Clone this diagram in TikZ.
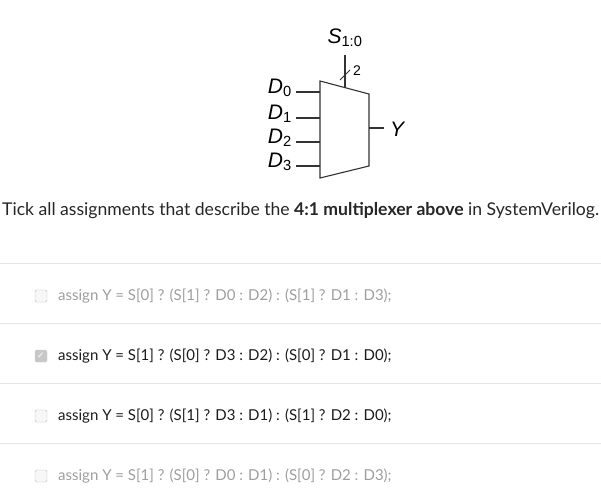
\documentclass[tikz,border=0pt]{standalone}
\usepackage{fontspec}
\setmainfont{Lato}
\newfontfamily\arial{Liberation Sans}
\newfontfamily\dejavu{DejaVu Sans}
\begin{document}
\begin{tikzpicture}[x=1pt,y=-1pt,
  wire/.style={line width=1.1pt,black!80},
  lbl/.style={font=\arial\fontsize{21}{21}\selectfont\itshape,inner sep=0},
  sep/.style={draw=black!10,line width=1pt},
  opt/.style={anchor=west,inner sep=0,font=\fontsize{15}{15}\selectfont},
  box/.style={draw=black!25,fill=black!3,rounded corners=1.5pt,minimum size=12pt,inner sep=0}]
\useasboundingbox (0,0) rectangle (601,501);
\coordinate (tl) at (320,81); \coordinate (bl) at (320,178);
\coordinate (tr) at (369,94); \coordinate (br) at (369,166);
\draw[wire,line join=miter] (tl) -- (tr) -- (br) -- (bl) -- cycle;
\foreach \i/\y in {0/92,1/118,2/142,3/166}{
  \coordinate (in\i) at (320,\y);
  \coordinate (w\i) at (296,\y);
  \draw[wire] (w\i) -- (in\i);
  \node[lbl,anchor=east] (d\i) at (292,\y-4) {D\textsubscript{\upshape\i}};
}
\coordinate (out) at (369,128); \coordinate (oe) at (384,128);
\draw[wire] (out) -- (oe);
\node[lbl,anchor=west] (y) at (390,129) {Y};
\coordinate (s0) at (345,55); \coordinate (s1) at (345,87.5);
\draw[wire] (s0) -- (s1);
\draw[wire,line width=0.8pt] (340,80) -- (350,70);
\node[font=\arial\fontsize{14}{14}\selectfont,inner sep=0] (two) at (357,71) {2};
\node[lbl] (s) at (345,38) {S\textsubscript{\upshape 1:0}};
\node[inner sep=0,anchor=west,font=\fontsize{17.6}{18}\selectfont,text=black!85] (q) at (2,211)
  {Tick all assignments that describe the \textbf{4:1 multiplexer above} in SystemVerilog.};
\foreach \y in {263,323,383,443} \draw[sep] (0,\y) -- (601,\y);
\node[box] (c1) at (41,296) {};
\node[opt,text=black!38] (o1) at (58,296) {assign Y = S[0] ? (S[1] ? D0 : D2) : (S[1] ? D1 : D3);};
\node[box,fill=black!22,draw=black!22] (c2) at (41,356) {\color{white}\dejavu\bfseries\fontsize{9}{9}\selectfont ✓};
\node[opt,text=black!90] (o2) at (58,356) {assign Y = S[1] ? (S[0] ? D3 : D2) : (S[0] ? D1 : D0);};
\node[box] (c3) at (41,416) {};
\node[opt,text=black!90] (o3) at (58,416) {assign Y = S[0] ? (S[1] ? D3 : D1) : (S[1] ? D2 : D0);};
\node[box] (c4) at (41,476) {};
\node[opt,text=black!38] (o4) at (58,476) {assign Y = S[1] ? (S[0] ? D0 : D1) : (S[0] ? D2 : D3);};
\end{tikzpicture}
\end{document}
